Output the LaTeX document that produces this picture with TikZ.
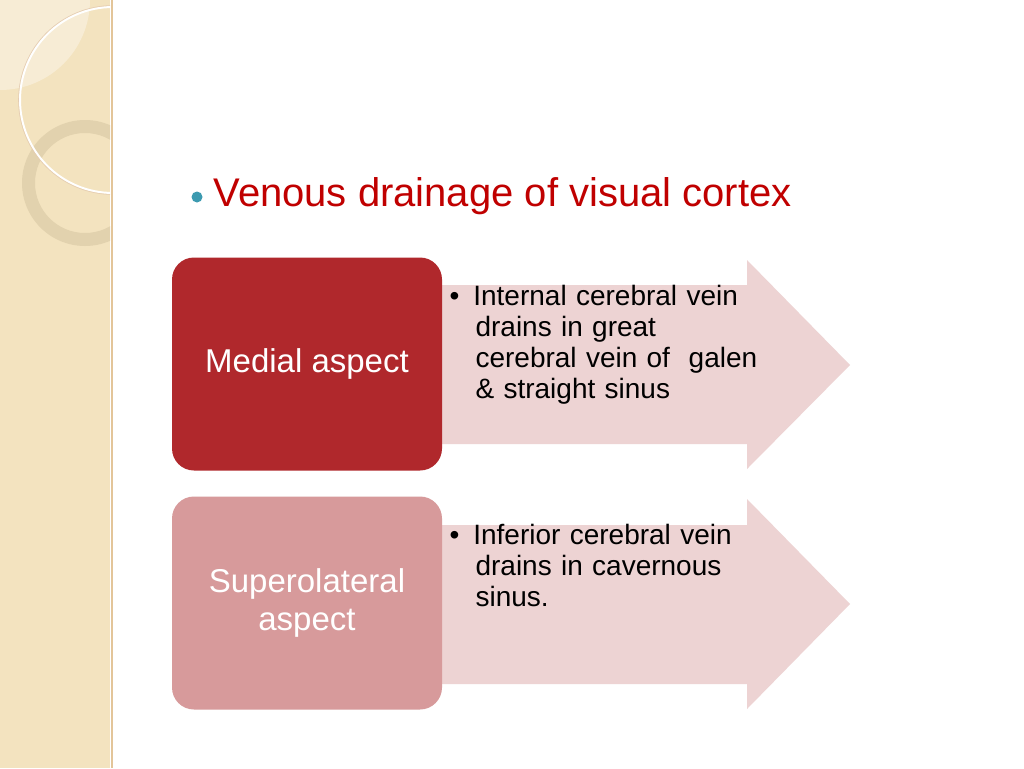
\documentclass[tikz,border=0pt]{standalone}
\usepackage{fontspec}
\setmainfont{Liberation Sans}
\begin{document}
\begin{tikzpicture}[x=1pt,y=-1pt,
 box/.style={rounded corners=22pt,text=white,align=center,font=\fontsize{33}{38}\selectfont},
 arr/.style={fill=arrowc},
 btxt/.style={anchor=north west,align=left,font=\fontsize{28}{31}\selectfont,text width=340pt}]
\definecolor{arrowc}{HTML}{EDD3D3}
\definecolor{darkred}{HTML}{B0282C}
\definecolor{lightred}{HTML}{D79A9B}
\definecolor{beige}{HTML}{F3E3BF}
\definecolor{ringc}{HTML}{E2D2AE}
\definecolor{titlec}{HTML}{C00000}
\definecolor{teal}{HTML}{3C9AB0}
\useasboundingbox (0,0) rectangle (1024,768);
\fill[white] (0,0) rectangle (1024,768);
\fill[beige] (0,0) rectangle (110,768);
\begin{scope}
\clip (0,0) rectangle (110,768);
\fill[white,opacity=0.35] (0,0) circle (90);
\fill[ringc,even odd rule] (85,183) circle (63) (85,183) circle (50);
\draw[white, line width=2pt] (113,100) circle (93);
\draw[brown!40, line width=0.6pt] (113,100) circle (94.5);
\end{scope}
\draw[beige!70!brown, line width=1.5pt] (112,0) -- (112,768);
\fill[teal] (197,197) circle (5.5);
\node[anchor=west,text=titlec,font=\fontsize{40}{46}\selectfont] (title) at (210,196) {Venous drainage of visual cortex};
\fill[arr] (442,285) -- (747,285) -- (747,260) -- (850,365) -- (747,469) -- (747,444) -- (442,444) -- cycle;
\fill[arr] (442,525) -- (747,525) -- (747,499) -- (850,604) -- (747,709) -- (747,684) -- (442,684) -- cycle;
\node[box,fill=darkred,minimum width=270pt,minimum height=213pt] (m) at (307,364) {Medial aspect};
\node[box,fill=lightred,minimum width=270pt,minimum height=213pt] (s) at (307,603) {Superolateral\\aspect};
\node[btxt] (t1) at (442,282) {\hspace*{4pt}\textbullet\hspace{14pt}Internal cerebral vein\\\hspace*{30pt}drains in great\\\hspace*{30pt}cerebral vein of \ galen\\\hspace*{30pt}\& straight sinus};
\node[btxt] (t2) at (442,521) {\hspace*{4pt}\textbullet\hspace{14pt}Inferior cerebral vein\\\hspace*{30pt}drains in cavernous\\\hspace*{30pt}sinus.};
\end{tikzpicture}
\end{document}
